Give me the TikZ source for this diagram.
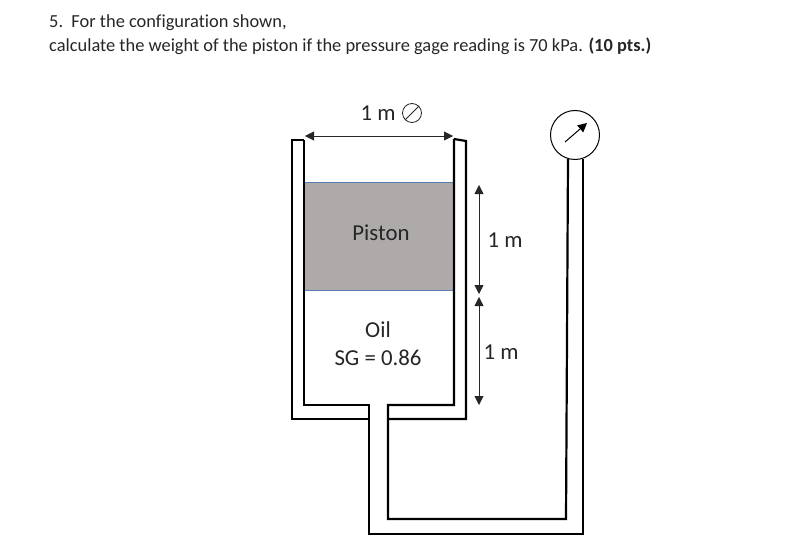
\documentclass[tikz,border=0pt]{standalone}
\usepackage{fontspec}
\setmainfont{Carlito}[Ligatures=NoCommon]
\usepackage{xcolor}
\usepackage{tikz}
\usetikzlibrary{arrows.meta}
\definecolor{pistongray}{HTML}{AEAAAA}
\definecolor{pistonblue}{HTML}{5B7DB1}
\definecolor{inkgray}{HTML}{262626}
\tikzset{
    wall/.style={line width=2.2pt, line join=miter, black},
    dimline/.style={line width=0.8pt, inkgray, {Triangle[length=9pt,width=9pt]}-{Triangle[length=9pt,width=9pt]}},
    label/.style={font=\fontsize{22.8}{26}\selectfont, text=inkgray, inner sep=0pt},
    prompt/.style={font=\fontsize{18.4}{22}\selectfont, text=inkgray, inner sep=0pt, anchor=base west}
}
\begin{document}
\begin{tikzpicture}[x=1pt, y=-1pt]
    \useasboundingbox (0,0) rectangle (797,548);
    \node[prompt] (line1) at (49,28) {5.\ \ For the configuration shown,};
    \node[prompt] (line2) at (49,52) {calculate the weight of the piston if the pressure gage reading is 70 kPa. \textbf{(10 pts.)}};
    % piston
    \node[draw=pistonblue, fill=pistongray, line width=0.8pt, minimum width=150pt, minimum height=108pt, inner sep=0pt] (piston) at (379.5,236) {};
    \node[label] (pistonlabel) at (381,232.5) {Piston};
    % tank and pipe
    \draw[wall] (304,140) -- (292,140) -- (292,419) -- (369,419);
    \draw[wall] (304,140) -- (304,405) -- (369,405) -- (369,534) -- (583,534) -- (583,159);
    \draw[wall] (454,139) -- (466,141) -- (466,419) -- (388,419);
    \draw[wall] (454,139) -- (454,405) -- (388,405) -- (388,519) -- (566,519) -- (568,159);
    % gage
    \node[draw, circle, fill=white, line width=1pt, minimum size=49pt, inner sep=0pt] (gage) at (575,135) {};
    \coordinate (needletail) at (565,142);
    \coordinate (needletip) at (587,123);
    \draw[-{Triangle[length=9pt,width=9pt]}, line width=1pt] (needletail) -- (needletip);
    % dimensions
    \coordinate (widthl) at (305,136);
    \coordinate (widthr) at (453,136);
    \draw[dimline] (widthl) -- (widthr);
    \node[label] (widthlabel) at (378,113) {1 m};
    \node[draw=inkgray, circle, line width=0.8pt, minimum size=19pt, inner sep=0pt] (dia) at (412,113) {};
    \draw[line width=0.8pt, inkgray] (dia.south west) -- (dia.north east);
    \foreach \ya/\yb/\name/\xl/\yl in {185/294/upper/505/240, 297/405/lower/501/352} {
        \coordinate (\name a) at (479,\ya);
        \coordinate (\name b) at (479,\yb);
        \draw[dimline] (\name a) -- (\name b);
        \node[label] (\name label) at (\xl,\yl) {1 m};
    }
    \node[label] (oillabel) at (378,329.5) {Oil};
    \node[label] (sglabel) at (378,357.5) {SG = 0.86};
\end{tikzpicture}
\end{document}
